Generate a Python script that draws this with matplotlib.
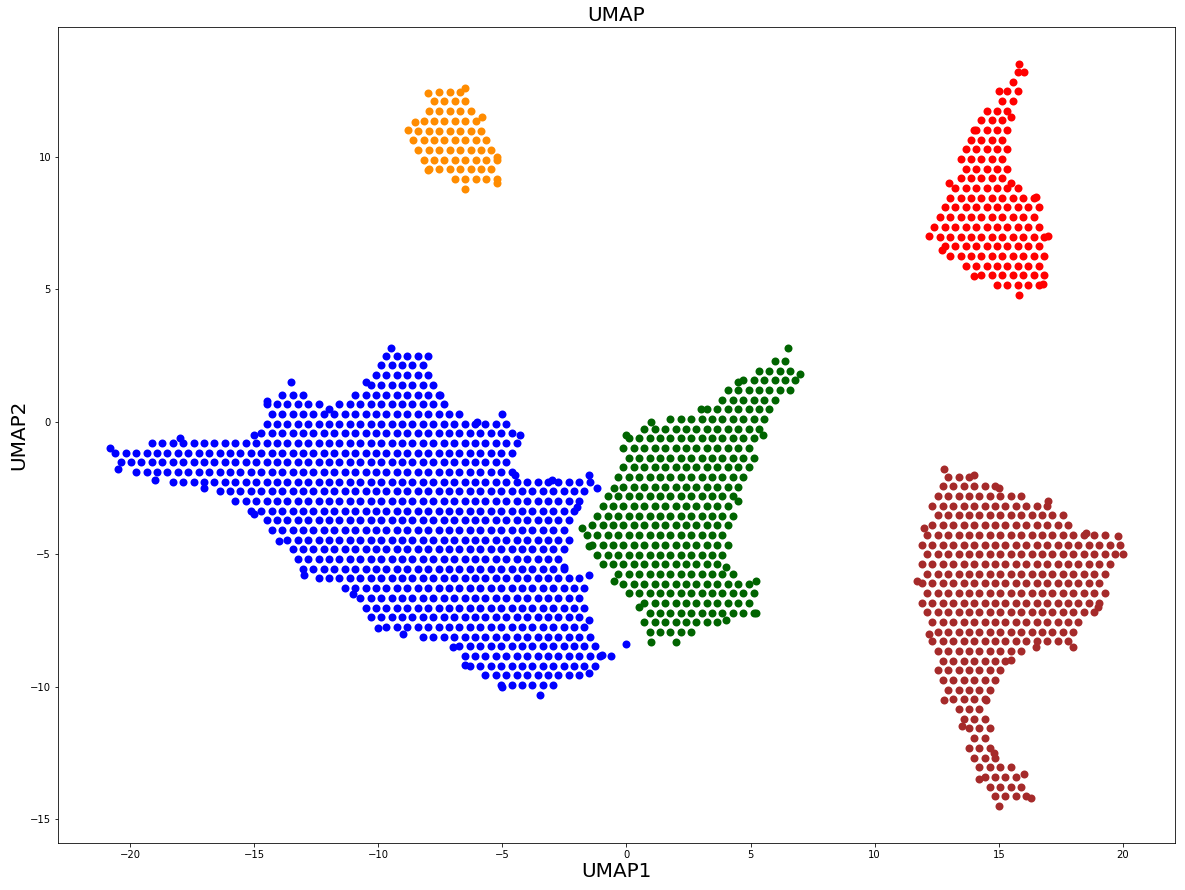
import numpy as np
import matplotlib
matplotlib.use("Agg")
import matplotlib.pyplot as plt
from matplotlib.path import Path

# Cluster outlines (data units)
orange_outline = [(-8.5,11.3),(-8,12.4),(-6.5,12.6),(-5.8,11.5),(-5.2,10),(-5.2,9),(-6.5,8.8),(-8,9.5),(-8.8,11)]
red_outline = [(12.2,7),(13,9),(14,11),(15,12.5),(15.8,13.5),(16,13.2),(15.5,11.5),(15.5,9),(16.5,8.5),(17,7),(16.8,5.2),(15.8,4.8),(14,5.5),(12.7,6.5)]
brown_outline = [(11.7,-6),(12,-4),(12.8,-1.8),(14,-2),(15,-2.5),(17,-3),(18.5,-4.2),(19.8,-4.3),(20,-5),(19,-7),(18,-8.5),(16.5,-8.5),(15.5,-9),(14.5,-10.5),(14.8,-12.5),(16,-13.3),(16.3,-14.2),(15,-14.5),(14.2,-13.5),(13.5,-11.5),(12.8,-10.5),(12.2,-8)]
green_outline = [(-1.8,-4),(-0.5,-2.5),(0,-0.5),(1,0),(3,0.5),(4.5,1.5),(6.5,2.8),(7,1.8),(5.5,-0.5),(4.5,-3),(4,-5.5),(5.2,-6),(5.2,-7.2),(4,-7.5),(2,-8.3),(1,-8.3),(0.5,-7),(-0.5,-6),(-1.5,-4.7)]
blue_outline = [(-20.8,-1),(-18,-0.6),(-15,-0.5),(-14.5,0.8),(-13.5,1.5),(-12,0.5),(-10.5,1.5),(-9.5,2.8),(-8,2.5),(-7.5,1),(-6,0),(-5,0.3),(-4.3,-0.5),(-4.5,-2),(-3,-2.2),(-1.5,-2),(-1.2,-2.5),(-2,-3.2),(-2.5,-5.5),(-1.5,-5.8),(-1.5,-7.5),(-1,-8.8),(0,-8.4),(-1.5,-9.5),(-3.5,-10.3),(-5,-10),(-6.5,-9.2),(-7,-8.5),(-9,-8),(-10,-7.8),(-11,-6.5),(-13,-5.8),(-14,-4.5),(-15,-3.5),(-17,-2.5),(-19,-2.2),(-20.5,-1.8)]

clusters = [
    (blue_outline, "blue"),
    (green_outline, "darkgreen"),
    (orange_outline, "darkorange"),
    (red_outline, "red"),
    (brown_outline, "brown"),
]

def fill_points(outline, step=0.42):
    poly = np.array(outline)
    path = Path(poly)
    xs = np.arange(poly[:,0].min(), poly[:,0].max() + step, step)
    ys = np.arange(poly[:,1].min(), poly[:,1].max() + step, step*0.87)
    pts = []
    for j, y in enumerate(ys):
        off = (step/2) if j % 2 else 0
        for x in xs:
            pts.append((x + off, y))
    pts = np.array(pts)
    inside = path.contains_points(pts)
    return np.vstack([pts[inside], poly])

fig = plt.figure(figsize=(1185/72, 890/72), dpi=72, facecolor="white")
ax = fig.add_axes([58/1185, 1-843/890, (1175-58)/1185, (843-27)/890])
for outline, color in clusters:
    p = fill_points(outline)
    ax.scatter(p[:,0], p[:,1], s=64, c=color, linewidths=0)
ax.set_xlim(-22.9, 22.1)
ax.set_ylim(-15.9, 14.9)
ax.set_xticks([-20,-15,-10,-5,0,5,10,15,20])
ax.set_yticks([-15,-10,-5,0,5,10])
ax.set_title("UMAP", fontsize=20)
ax.set_xlabel("UMAP1", fontsize=20, labelpad=2)
ax.set_ylabel("UMAP2", fontsize=20, labelpad=2)
ax.tick_params(labelsize=10)
fig.savefig("out.png", dpi=72, facecolor="white")
